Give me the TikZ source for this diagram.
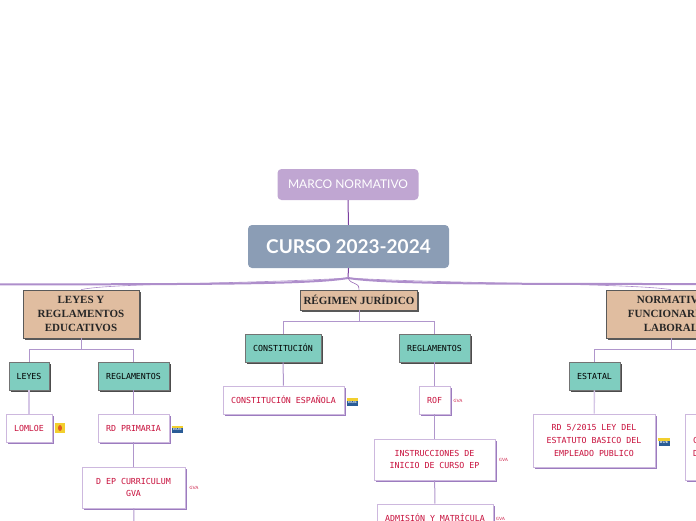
\documentclass[tikz,border=0pt]{standalone}
\usepackage{fontspec}
\usetikzlibrary{shadows}
\newfontfamily\pixelfont{DejaVu Sans Mono}
\newfontfamily\headfont{Lato}
\newfontfamily\titlefont{Liberation Serif}
\definecolor{marcocol}{HTML}{C0A6D2}
\definecolor{cursocol}{HTML}{8B9DB5}
\definecolor{titlecol}{HTML}{E0BDA0}
\definecolor{tealcol}{HTML}{7FCDBF}
\definecolor{linkcol}{HTML}{B096CC}
\definecolor{softcol}{HTML}{D5C6E6}
\definecolor{rootcol}{HTML}{7B3FA0}
\definecolor{maincol}{HTML}{AE8ECB}
\definecolor{edgecol}{HTML}{CDB8DE}
\definecolor{shadecol}{HTML}{9C7CBF}
\definecolor{redtext}{HTML}{C8103C}
\definecolor{boeblue}{HTML}{2A5C96}
\definecolor{boeyellow}{HTML}{F2CF2E}
\tikzset{
  headbox/.style={rounded corners=4pt, text=white, align=center, font=\headfont, draw=none},
  titlebox/.style={fill=titlecol, draw=black!65, line width=0.7pt, align=center,
    font=\titlefont\bfseries\fontsize{11}{14}\selectfont, text=black!85,
    drop shadow={shadow xshift=1.6pt, shadow yshift=-1.6pt, opacity=1, fill=black!65}},
  tealbox/.style={fill=tealcol, draw=black!55, line width=0.7pt, align=center,
    font=\pixelfont\fontsize{8.3}{12}\selectfont, text=black,
    drop shadow={shadow xshift=1.6pt, shadow yshift=-1.6pt, opacity=1, fill=black!70}},
  whitebox/.style={fill=white, draw=edgecol, line width=0.9pt, align=center,
    font=\pixelfont\fontsize{8.3}{12.6}\selectfont, text=redtext,
    drop shadow={shadow xshift=1.5pt, shadow yshift=-1.5pt, opacity=1, fill=shadecol}},
  gvatag/.style={font=\sffamily\fontsize{4.5}{5}\selectfont, text=redtext, inner sep=0pt},
  boetag/.style={fill=boeblue, text=white, font=\sffamily\bfseries\fontsize{4}{4}\selectfont,
    minimum width=11pt, minimum height=7.5pt, inner sep=0pt},
  link/.style={draw=linkcol, line width=1pt},
  softlink/.style={draw=softcol, line width=1.4pt},
}
\newcommand{\boeband}[1]{\fill[boeyellow] (#1.north west) rectangle ([yshift=-2.5pt]#1.north east);}
\begin{document}
\begin{tikzpicture}[x=1pt,y=-1pt]
    \useasboundingbox (0,0) rectangle (696,520);
    \coordinate (root) at (348,278);
    \coordinate (leftend) at (-6,284.5);
    \coordinate (rightend) at (702,284);
    \coordinate (bajoep) at (134,526);
    \coordinate (barfin) at (760,349);

    \node (marco) at (348,184.5) [headbox, fill=marcocol, minimum width=141pt, minimum height=31pt, font=\headfont\fontsize{12}{14}\selectfont] {MARCO NORMATIVO};
    \node (curso) at (348.5,246.5) [headbox, fill=cursocol, minimum width=201pt, minimum height=43pt, font=\headfont\bfseries\fontsize{19}{22}\selectfont] {CURSO 2023-2024};

    % titles
    \node (leyes) at (81,314) [titlebox, minimum width=116pt, minimum height=48pt] {LEYES Y\\REGLAMENTOS\\EDUCATIVOS};
    \node (regimen) at (359,300) [titlebox, minimum width=116pt, minimum height=20pt] {RÉGIMEN JURÍDICO};
    \node (normativa) at (671,314) [titlebox, minimum width=130pt, minimum height=48pt] {NORMATIVA\\FUNCIONARIOS\\LABORAL};

    % main lines
    \draw[rootcol, line width=1pt] (marco.south) -- (curso.north);
    \draw[rootcol, line width=1pt] (curso.south) -- (root);
    \draw[maincol, line width=2pt] (root) .. controls (310,284.5) and (200,284) .. (leftend);
    \draw[maincol, line width=2pt] (root) .. controls (386,284) and (500,284) .. (rightend);
    \draw[maincol, line width=0.6pt] (root) .. controls (250,284) and (110,283) .. (leyes.north);
    \draw[maincol, line width=0.6pt] (root) .. controls (450,284) and (630,283) .. (normativa.north);
    \draw[rootcol!80, line width=0.6pt] (root) .. controls (352,286) and (359,281) .. (regimen.north);

    % second level
    \node (tleyes) at (29,376) [tealbox, minimum width=40pt, minimum height=28pt] {LEYES};
    \node (treglaa) at (133.5,376) [tealbox, minimum width=71pt, minimum height=28pt] {REGLAMENTOS};
    \node (tconst) at (283,348) [tealbox, minimum width=76pt, minimum height=28pt] {CONSTITUCIÓN};
    \node (treglab) at (434.5,348) [tealbox, minimum width=71pt, minimum height=28pt] {REGLAMENTOS};
    \node (testatal) at (594.5,376) [tealbox, minimum width=51pt, minimum height=28pt] {ESTATAL};

    % leaves
    \node (lomloe) at (29,428) [whitebox, minimum width=46pt, minimum height=28pt] {LOMLOE};
    \node (rdprim) at (133.5,428) [whitebox, minimum width=71pt, minimum height=28pt] {RD PRIMARIA};
    \node (dep) at (133.5,487.5) [whitebox, minimum width=103pt, minimum height=41pt] {D EP CURRICULUM\\GVA};
    \node (ce) at (283.5,400) [whitebox, minimum width=121pt, minimum height=28pt] {CONSTITUCIÓN ESPAÑOLA};
    \node (rof) at (434.5,400) [whitebox, minimum width=31pt, minimum height=28pt] {ROF};
    \node (instr) at (434.5,459.5) [whitebox, minimum width=121pt, minimum height=41pt] {INSTRUCCIONES DE\\INICIO DE CURSO EP};
    \node (admis) at (435,518) [whitebox, minimum width=116pt, minimum height=28pt] {ADMISIÓN Y MATRÍCULA};
    \node (rdebep) at (594,440.5) [whitebox, minimum width=122pt, minimum height=53pt] {RD 5/2015 LEY DEL\\ESTATUTO BASICO DEL\\EMPLEADO PUBLICO};
    \node (otra) at (735,447) [whitebox, minimum width=100pt, minimum height=66pt, text width=84pt, align=left] {C\\D};

    % tags
    \node (flag) at (60,428) [fill=boeyellow, minimum size=10.5pt, inner sep=0pt] {};
    \fill[red!50!brown, opacity=0.8] (flag.center) ellipse (2pt and 3pt);
    \node (boea) at (177.5,429.5) [boetag] {BOE};
    \boeband{boea}
    \node (boeb) at (352.5,402) [boetag] {BOE};
    \boeband{boeb}
    \node (boec) at (664,442) [boetag] {BOE};
    \boeband{boec}
    \node (gvaa) at (194,488) [gvatag] {GVA};
    \node (gvab) at (458,400.5) [gvatag] {GVA};
    \node (gvac) at (503.5,460) [gvatag] {GVA};
    \node (gvad) at (500.5,518.5) [gvatag] {GVA};

    % connectors
    \draw[link] (leyes.south) -- ++(0,11) -| (tleyes.north);
    \draw[link] (leyes.south) -- ++(0,11) -| (treglaa.north);
    \draw[link] (regimen.south) -- ++(0,11) -| (tconst.north);
    \draw[link] (regimen.south) -- ++(0,11) -| (treglab.north);
    \draw[link] (normativa.south) -- ++(0,11) -| (testatal.north);
    \draw[link] (normativa.south) |- (barfin);
    \draw[softlink] (tleyes) -- (lomloe);
    \draw[link] (treglaa) -- (rdprim);
    \draw[link] (rdprim) -- (dep);
    \draw[link] (dep) -- (bajoep);
    \draw[link] (tconst) -- (ce);
    \draw[link] (treglab) -- (rof);
    \draw[link] (rof) -- (instr);
    \draw[link] (instr) -- (admis);
    \draw[softlink] (testatal) -- (rdebep);
\end{tikzpicture}
\end{document}
